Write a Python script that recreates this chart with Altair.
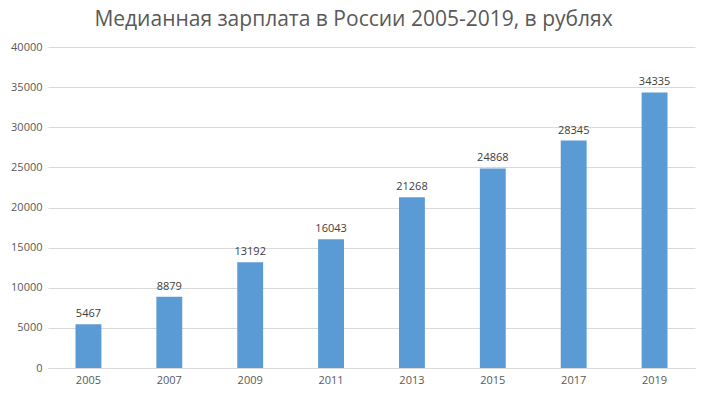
import altair as alt
import pandas as pd

years = ["2005", "2007", "2009", "2011", "2013", "2015", "2017", "2019"]
salaries = [5467, 8879, 13192, 16043, 21268, 24868, 28345, 34335]

df = pd.DataFrame({"year": years, "salary": salaries})

FONT = "Open Sans"
GRAY = "#595959"

x = alt.X("year:N", sort=years, title=None,
          scale=alt.Scale(paddingInner=0.68, paddingOuter=0.34),
          axis=alt.Axis(labelAngle=0, ticks=False, domain=True, domainColor="#D9D9D9",
                        labelFont=FONT, labelFontSize=11, labelColor=GRAY, labelPadding=6))
y = alt.Y("salary:Q", title=None,
          scale=alt.Scale(domain=[0, 40000]),
          axis=alt.Axis(values=list(range(0, 40001, 5000)), ticks=False, domain=False,
                        grid=True, gridColor="#D9D9D9", labelFont=FONT, labelFontSize=11,
                        labelColor=GRAY, labelPadding=6, format="d"))

bars = alt.Chart(df).mark_bar(color="#5B9BD5").encode(x=x, y=y)
labels = alt.Chart(df).mark_text(dy=-10, font=FONT, fontSize=11, color="#404040").encode(
    x=alt.X("year:N", sort=years), y="salary:Q", text="salary:Q")

chart = (bars + labels).properties(
    width=647, height=321,
    autosize=alt.AutoSizeParams(type="none"),
    padding={"left": 40, "top": 39, "right": 3, "bottom": 26},
    title=alt.Title("Медианная зарплата в России 2005-2019, в рублях", font=FONT, fontSize=21,
                    fontWeight="normal", color=GRAY, anchor="middle", dx=-18, offset=11),
).configure_view(stroke=None)

chart.save("out.html", embed_options={"renderer": "svg", "actions": False})
